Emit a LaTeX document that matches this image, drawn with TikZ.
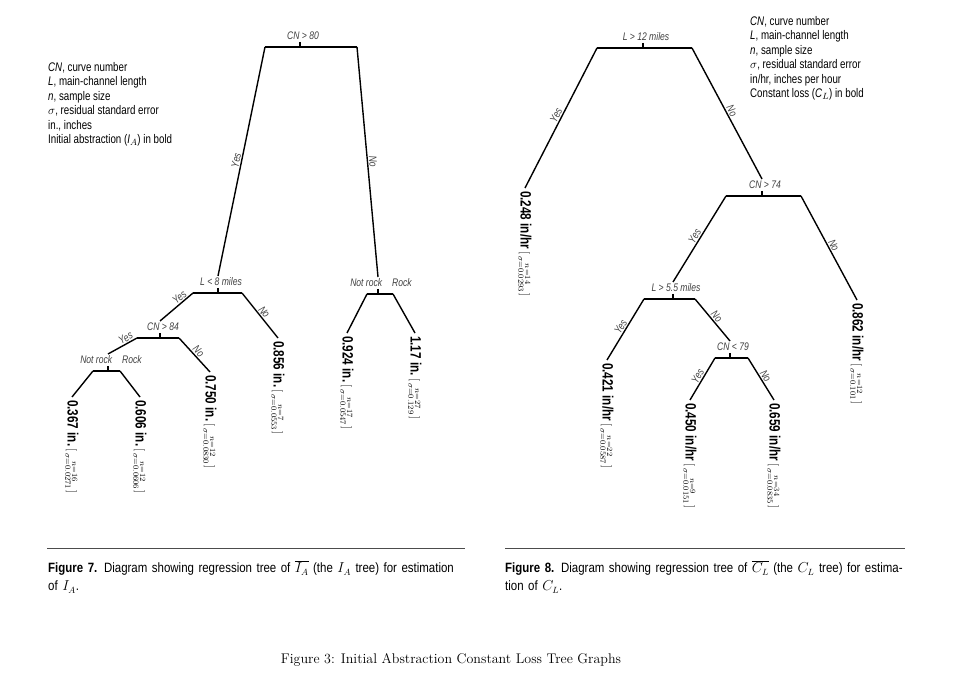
\documentclass[tikz,border=0pt]{standalone}
\usepackage{amsmath}
\usepackage{fontspec}
\newfontfamily\cond[FakeStretch=0.78]{Liberation Sans}
\newfontfamily\capf[FakeStretch=0.85]{Liberation Sans}
\begin{document}
\begin{tikzpicture}[x=1pt,y=-1pt,
  br/.style={line width=1.4pt},
  cond/.style={font=\cond\fontsize{11}{12}\selectfont\itshape, text=black!75, inner sep=0.5pt},
  yn/.style={font=\cond\fontsize{11}{12}\selectfont\itshape, text=black!75, inner sep=1pt},
  leafst/.style={rotate=-90, anchor=west, inner sep=1pt, font=\cond\fontsize{15}{16}\selectfont\bfseries},
  legend/.style={anchor=north west, align=left, inner sep=0pt, font=\cond\fontsize{12.5}{14.5}\selectfont},
  cap/.style={anchor=north west, align=left, inner sep=0pt, text width=#1, font=\capf\fontsize{13.5}{18}\selectfont}]
\useasboundingbox (0,0) rectangle (962,676);
\newcommand\splitbar[6]{% name, x1, x2, y, tickx, label
  \coordinate (#1-l) at (#2,#4); \coordinate (#1-r) at (#3,#4);
  \coordinate (#1-t) at (#5,#4-17);
  \draw[br] (#1-l) -- (#1-r);
  \draw[br] (#5,#4-5) -- (#5,#4);
  \node[cond] (#1) at (#5+3,#4-11) {#6};}
% ---------- left tree ----------
\splitbar{r1}{265}{357}{47}{300}{CN > 80}
\splitbar{l8}{193}{242}{293}{218}{L < 8 miles}
\splitbar{c84}{137}{179}{338}{160}{CN > 84}
\splitbar{rk1}{93}{120}{371}{108}{Not rock\hspace{10pt}Rock}
\splitbar{rk2}{367}{393}{294}{378}{Not rock\hspace{10pt}Rock}
\newcommand\leaf[6]{\coordinate (#1-c) at (#2,#3);
  \node[leafst] (#1) at (#2,#3+2) {#4\,\raisebox{1pt}{\fontsize{11}{11}\selectfont\mdseries$\left[\begin{smallmatrix}n=#5\\ \sigma=#6\end{smallmatrix}\right]$}};}
\leaf{a1}{72}{397}{0.367 in.}{16}{0.0271}
\leaf{a2}{140}{397}{0.606 in.}{12}{0.0606}
\leaf{a3}{210}{372}{0.750 in.}{12}{0.0830}
\leaf{a4}{278}{338}{0.856 in.}{7}{0.0553}
\leaf{a5}{347}{333}{0.924 in.}{17}{0.0547}
\leaf{a6}{415}{333}{1.17 in.}{27}{0.129}
\draw[br] (r1-l) -- node[yn, sloped, above, pos=0.5] {Yes} (l8-t);
\draw[br] (r1-r) -- node[yn, sloped, above, pos=0.5] {No} (rk2-t);
\draw[br] (l8-l) -- node[yn, sloped, above, pos=0.3] {Yes} (c84-t);
\draw[br] (l8-r) -- node[yn, sloped, above] {No} (a4-c);
\draw[br] (c84-l) -- node[yn, sloped, above, pos=0.3] {Yes} (rk1-t);
\draw[br] (c84-r) -- node[yn, sloped, above] {No} (a3-c);
\draw[br] (rk1-l) -- (a1-c);
\draw[br] (rk1-r) -- (a2-c);
\draw[br] (rk2-l) -- (a5-c);
\draw[br] (rk2-r) -- (a6-c);
\node[legend] (leg1) at (48,62) {\textit{CN}, curve number\\ \textit{L}, main-channel length\\ \textit{n}, sample size\\ $\sigma$, residual standard error\\ in., inches\\ Initial abstraction (\textit{I}$_A$) in bold};
% ---------- right tree ----------
\splitbar{r2}{597}{692}{48}{643}{L > 12 miles}
\splitbar{c74}{726}{801}{196}{762}{CN > 74}
\splitbar{l55}{644}{695}{299}{673}{L > 5.5 miles}
\splitbar{c79}{715}{748}{358}{730}{CN < 79}
\leaf{b1}{525}{188}{0.248 in/hr}{14}{0.0293}
\leaf{b2}{607}{360}{0.421 in/hr}{22}{0.0587}
\leaf{b3}{690}{400}{0.450 in/hr}{9}{0.0151}
\leaf{b4}{774}{400}{0.659 in/hr}{34}{0.0835}
\leaf{b5}{857}{300}{0.862 in/hr}{12}{0.101}
\draw[br] (r2-l) -- node[yn, sloped, above] {Yes} (b1-c);
\draw[br] (r2-r) -- node[yn, sloped, above] {No} (c74-t);
\draw[br] (c74-l) -- node[yn, sloped, above] {Yes} (l55-t);
\draw[br] (c74-r) -- node[yn, sloped, above] {No} (b5-c);
\draw[br] (l55-l) -- node[yn, sloped, above] {Yes} (b2-c);
\draw[br] (l55-r) -- node[yn, sloped, above] {No} (c79-t);
\draw[br] (c79-l) -- node[yn, sloped, above] {Yes} (b3-c);
\draw[br] (c79-r) -- node[yn, sloped, above] {No} (b4-c);
\node[legend] (leg2) at (750,16) {\textit{CN}, curve number\\ \textit{L}, main-channel length\\ \textit{n}, sample size\\ $\sigma$, residual standard error\\ in/hr, inches per hour\\ Constant loss (\textit{C}$_L$) in bold};
% ---------- captions ----------
\coordinate (h1a) at (47,548); \coordinate (h1b) at (465,548);
\coordinate (h2a) at (505,548); \coordinate (h2b) at (905,548);
\draw[black!70, line width=0.8pt] (h1a) -- (h1b);
\draw[black!70, line width=0.8pt] (h2a) -- (h2b);
\node[cap=415pt] (cap1) at (48,560) {\textbf{Figure 7.}\enspace Diagram showing regression tree of $\overline{I_A}$ (the $I_A$ tree) for estimation of $I_A$.};
\node[cap=400pt] (cap2) at (505,560) {\textbf{Figure 8.}\enspace Diagram showing regression tree of $\overline{C_L}$ (the $C_L$ tree) for estimation of $C_L$.};
\node[font=\fontsize{14}{16}\selectfont] (fig3) at (451,660) {Figure 3: Initial Abstraction Constant Loss Tree Graphs};
\end{tikzpicture}
\end{document}
